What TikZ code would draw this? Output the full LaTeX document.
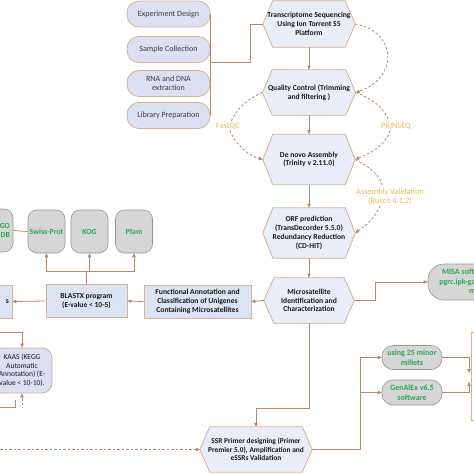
\documentclass[tikz,border=0pt]{standalone}
\usepackage{fontspec}
\setmainfont{Carlito}
\usetikzlibrary{arrows.meta,backgrounds,calc}
\definecolor{linec}{RGB}{185,135,105}
\definecolor{bordc}{RGB}{214,178,142}
\definecolor{hexfill}{RGB}{233,237,249}
\definecolor{pillfill}{RGB}{220,224,242}
\definecolor{rectfill}{RGB}{219,227,244}
\definecolor{grayfill}{RGB}{214,214,214}
\definecolor{graybord}{RGB}{150,150,150}
\definecolor{greentxt}{RGB}{40,168,80}
\definecolor{goldtxt}{RGB}{234,186,82}
\definecolor{darktxt}{RGB}{25,25,25}
\definecolor{pilltxt}{RGB}{60,60,60}
\begin{document}
\begin{tikzpicture}[x=1pt,y=-1pt,
  hexbox/.style={inner sep=0pt, align=center, text=darktxt, font=\bfseries\fontsize{7.6}{8.8}\selectfont},
  pill/.style={draw=bordc, fill=pillfill, line width=0.8pt, rounded corners=12pt, minimum width=83pt, minimum height=26pt, align=center, font=\fontsize{8}{9}\selectfont, text=pilltxt, inner sep=1pt},
  db/.style={draw=graybord, fill=grayfill, line width=0.6pt, rounded corners=9pt, minimum width=37pt, minimum height=43pt, align=center, font=\bfseries\fontsize{7.8}{9}\selectfont, text=greentxt, inner sep=0pt},
  rbox/.style={draw=bordc, fill=rectfill, line width=0.8pt, minimum height=33pt, align=center, font=\bfseries\fontsize{7.6}{9}\selectfont, text=darktxt, inner sep=1pt},
  kaasbox/.style={draw=bordc, fill=pillfill, line width=0.8pt, rounded corners=10pt, minimum width=60pt, minimum height=45pt, align=center, font=\fontsize{7.5}{8.5}\selectfont, text=darktxt, inner sep=1pt},
  gpill/.style={draw=graybord, fill=grayfill, line width=0.6pt, rounded corners=11pt, minimum width=60pt, minimum height=24pt, align=center, font=\bfseries\fontsize{8}{9.5}\selectfont, text=greentxt, inner sep=1pt},
  lbl/.style={text=goldtxt, font=\fontsize{8.3}{9}\selectfont, align=center, inner sep=1pt},
  conn/.style={draw=linec, line width=0.8pt},
  arr/.style={-{Triangle[length=4pt,width=3.5pt]}},
  dconn/.style={conn, dash pattern=on 2.5pt off 2pt},
  hexline/.style={draw=bordc, fill=hexfill, line width=0.8pt}
]
\useasboundingbox (0,0) rectangle (474,474);

% hexagon nodes
\node[hexbox, minimum width=92pt, minimum height=46pt] (h1) at (309,24) {Transcriptome Sequencing\\Using Ion Torrent S5\\Platform};
\node[hexbox, minimum width=93pt, minimum height=45pt] (h2) at (309,92.5) {Quality Control (Trimming\\and filtering )};
\node[hexbox, minimum width=92pt, minimum height=50pt] (h3) at (309,159.5) {De novo Assembly\\(Trinity v 2.11.0)};
\node[hexbox, minimum width=92pt, minimum height=50pt] (h4) at (309,233) {ORF prediction\\(TransDecorder 5.5.0)\\Redundancy Reduction\\(CD-HIT)};
\node[hexbox, minimum width=90pt, minimum height=45pt] (h5) at (309,300.5) {Microsatellite\\Identification and\\Characterization};
\node[hexbox, minimum width=112pt, minimum height=45pt, font=\bfseries\fontsize{7.4}{8.6}\selectfont] (h6) at (256,449.5) {SSR Primer designing (Primer\\Premier 5.0), Amplification and\\eSSRs Validation};

\begin{scope}[on background layer]
\fill[white] (0,0) rectangle (474,474);
\foreach \n in {h1,h2,h3,h4,h5,h6}
  \draw[hexline] (\n.west) -- ([xshift=10pt]\n.north west) -- ([xshift=-10pt]\n.north east) -- (\n.east) -- ([xshift=-10pt]\n.south east) -- ([xshift=10pt]\n.south west) -- cycle;
\end{scope}

% left pills
\node[pill] (p1) at (168.5,14) {Experiment Design};
\node[pill] (p2) at (168.5,49.5) {Sample Collection};
\node[pill] (p3) at (168.5,83.5) {RNA and DNA\\extraction};
\node[pill] (p4) at (168.5,115.5) {Library Preparation};

% tool labels
\node[lbl] (fq) at (228,126) {FastQC};
\node[lbl] (ps) at (396,126) {PRINSEQ};
\node[lbl] (av) at (390,196.5) {Assembly Validation\\(Busco 4.1.2)};

% databases
\node[db, text width=31pt, align=right] (ldb) at (-5.5,230.5) {GO\\DB};
\node[db] (sp) at (46.5,231.5) {Swiss-Prot};
\node[db] (kog) at (89.5,231.5) {KOG};
\node[db] (pf) at (134,231.5) {Pfam};

% rectangles
\node[rbox, minimum width=81pt] (bl) at (86.5,301) {BLASTX program\\(E-value < 10-5)};
\node[rbox, minimum width=107pt] (fa) at (197.5,301.5) {Functional Annotation and\\Classification of Unigenes\\Containing Microsatellites};
\node[rbox, minimum width=40pt, text width=34pt, align=right] (lb) at (-8,301.5) {s};

% KAAS
\node[kaasbox] (ka) at (22,370.5) {KAAS (KEGG\\Automatic\\Annotation) (E-\\value < 10-10).};

% gray right shapes
\node[gpill, minimum width=104pt, minimum height=36pt, rounded corners=16pt] (mi) at (480,282) {MISA software (http://\\pgrc.ipk-gatersleben.de/\\misa/)};
\node[gpill] (u25) at (412,357.5) {using 25 minor\\millets};
\node[gpill, minimum height=25pt] (ge) at (412,392.5) {GenAlEx v6.5\\software};
\node[draw=bordc, fill=white, line width=0.8pt, minimum width=30pt, minimum height=88pt] (rb) at (486,376) {};

% connectors: top
\draw[conn] (p1.east) -- (p4.east);
\coordinate (j0) at (210,62);
\coordinate (j1) at (250,62);
\draw[conn] (j0) -- (j1) |- (h1.west);
\draw[conn,arr] (h1.south) -- (h2.north);
\draw[conn,arr] (h2.south) -- (h3.north);
\draw[conn,arr] (h3.south) -- (h4.north);
\draw[conn,arr] (h4.south) -- (h5.north);

% dashed tool curves
\draw[dconn,arr] (h1.east) .. controls (398,32) and (398,78) .. (h2.east);
\draw[dconn] (h2.west) .. controls (250,98) and (238,106) .. ([xshift=3pt]fq.north);
\draw[dconn,arr] ([xshift=2pt]fq.south) .. controls (236,146) and (250,156) .. (h3.west);
\draw[dconn] (h2.east) .. controls (370,98) and (384,106) .. ([xshift=-7pt]ps.north);
\draw[dconn,arr] ([xshift=-6pt]ps.south) .. controls (386,146) and (368,154) .. (h3.east);
\draw[dconn] (h3.east) .. controls (368,166) and (380,174) .. ([xshift=-7pt]av.north);
\draw[dconn,arr] ([xshift=-10pt]av.south) .. controls (376,216) and (368,224) .. (h4.east);

% connectors: middle
\coordinate (mj) at (375,0);
\draw[conn,arr] (h5.east) -- (h5.east-|mj) |- (mi.west);
\draw[conn,arr] (h5.west) -- (fa.east);
\draw[conn,arr] (fa.west) -- (bl.east);
\draw[conn,arr] (bl.west) -- (lb.east);
\coordinate (bj) at (0,271);
\draw[conn] (bl.north) -- (bl.north|-bj);
\draw[conn,arr] (bl.north|-bj) -| (sp.south);
\draw[conn,arr] (bl.north|-bj) -| (pf.south);
\draw[conn,arr] (kog.south|-bj) -- (kog.south);
\draw[conn] (ldb.east) -- (sp.west);

% KAAS connectors
\coordinate (kt) at (0,332);
\draw[conn,arr] (kt) -| (ka.north);
\coordinate (kb) at (0,407);
\coordinate (kb2) at (15,400);
\draw[conn] (kb) -| (kb2);
\coordinate (kb3) at (22,405);
\draw[dconn,arr] (kb3) -- (ka.south);

% bottom
\coordinate (ld) at (0,449.5);
\draw[dconn,arr] (ld) -- (h6.west);
\coordinate (md) at (309,408);
\draw[conn,arr] (h5.south) -- (h5.south|-md) -| (h6.north);
\coordinate (sj) at (360,0);
\draw[conn] (h6.east) -- (h6.east-|sj);
\draw[conn,arr] (h6.east-|sj) |- (u25.west);
\draw[conn,arr] (sj|-ge.west) -- (ge.west);
\coordinate (rj1) at (469,373);
\coordinate (rj2) at (469,382);
\draw[conn,arr] (u25.east) -| (rj1);
\draw[conn,arr] (ge.east) -| (rj2);
\end{tikzpicture}
\end{document}
